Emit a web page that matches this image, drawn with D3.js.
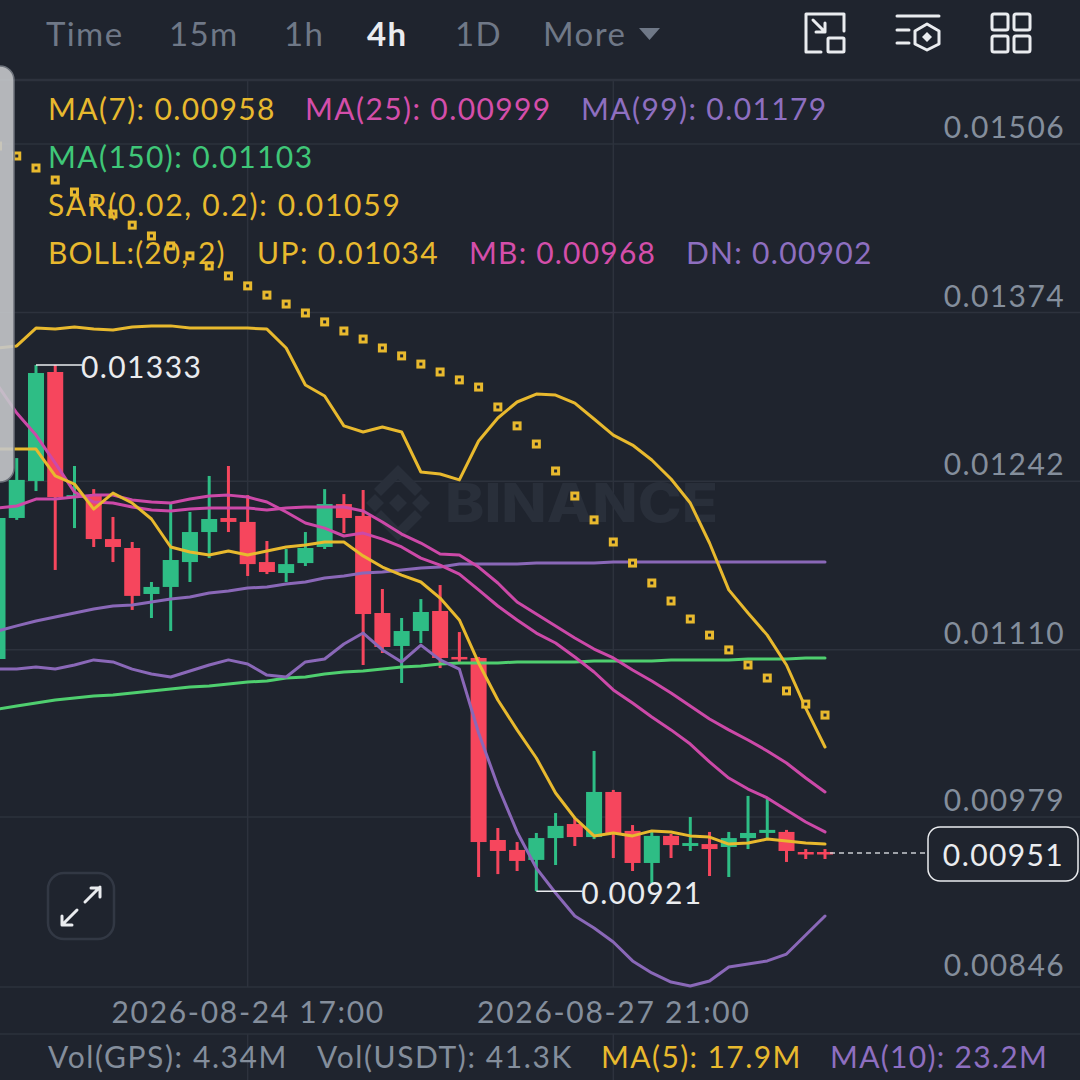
<!DOCTYPE html>
<html>
<head>
<meta charset="utf-8">
<script src="https://cdn.jsdelivr.net/npm/d3@7"></script>
<style>
  html, body { margin: 0; padding: 0; background: #1f242e; }
  svg { display: block; }
  text { font-family: Lato, "Open Sans", sans-serif; letter-spacing: 1.4px; }
</style>
</head>
<body>
<svg id="chart" width="1080" height="1080"></svg>
<script>
/* GPS/USDT 4h candles with MA, SAR and BOLL overlays */
var firstCandle = new Date(2026, 7, 22, 13, 0);
var dateTicks = [new Date(2026, 7, 24, 17, 0), new Date(2026, 7, 27, 21, 0)];
var priceTicks = [0.01506, 0.01374, 0.01242, 0.01110, 0.00979, 0.00846];
var lastPrice = 0.00951;

var opens = [0.011028,0.012132,0.012422,0.013275,0.012296,0.012304,0.011967,0.011897,0.011537,0.011592,0.011787,0.012022,0.012132,0.012101,0.011787,0.011701,0.011779,0.011905,0.012241,0.012148,0.011388,0.011130,0.011247,0.011404,0.011044,0.011036,0.009611,0.009533,0.009455,0.009626,0.009736,0.009634,0.009987,0.009682,0.009431,0.009643,0.009564,0.009579,0.009556,0.009626,0.009666,0.009674,0.009517,0.009517];
var highs = [0.012195,0.012601,0.013330,0.013330,0.012539,0.012358,0.012140,0.011944,0.011631,0.012249,0.012179,0.012461,0.012539,0.012311,0.011952,0.011889,0.012022,0.012358,0.012319,0.012351,0.011576,0.011349,0.011497,0.011607,0.011239,0.011044,0.009705,0.009595,0.009666,0.009822,0.009783,0.010308,0.010003,0.009728,0.009682,0.009658,0.009791,0.009674,0.009674,0.009956,0.009932,0.009690,0.009540,0.009540];
var lows = [0.010981,0.012117,0.012343,0.011725,0.012053,0.011905,0.011787,0.011412,0.011349,0.011247,0.011631,0.011818,0.012022,0.011678,0.011693,0.011631,0.011756,0.011889,0.012014,0.010981,0.011075,0.010840,0.011153,0.010957,0.011005,0.009321,0.009344,0.009368,0.009210,0.009415,0.009564,0.009618,0.009470,0.009368,0.009274,0.009470,0.009525,0.009329,0.009321,0.009540,0.009618,0.009439,0.009462,0.009462];
var closes = [0.012132,0.012430,0.013267,0.012296,0.012311,0.011967,0.011905,0.011522,0.011592,0.011803,0.012022,0.012124,0.012101,0.011771,0.011709,0.011771,0.011897,0.012241,0.012132,0.011380,0.011122,0.011247,0.011396,0.011036,0.011028,0.009595,0.009525,0.009447,0.009626,0.009721,0.009634,0.009987,0.009666,0.009431,0.009643,0.009571,0.009587,0.009540,0.009626,0.009666,0.009690,0.009525,0.009501,0.009500];

var ma7 = [0.012672,0.012672,0.012672,0.012461,0.012398,0.012202,0.012327,0.012249,0.012124,0.011905,0.011866,0.011842,0.011874,0.011842,0.011874,0.011905,0.011920,0.011944,0.011944,0.011835,0.011748,0.011685,0.011631,0.011505,0.011334,0.010997,0.010707,0.010473,0.010253,0.009979,0.009783,0.009643,0.009666,0.009643,0.009682,0.009674,0.009643,0.009634,0.009579,0.009587,0.009618,0.009603,0.009587,0.009579];
var ma25 = [0.013173,0.012954,0.012781,0.012562,0.012335,0.012257,0.012249,0.012218,0.012195,0.012187,0.012202,0.012210,0.012210,0.012210,0.012195,0.012210,0.012218,0.012218,0.012218,0.012187,0.012101,0.012006,0.011936,0.011850,0.011842,0.011748,0.011623,0.011474,0.011380,0.011287,0.011192,0.011106,0.011036,0.010942,0.010856,0.010762,0.010660,0.010558,0.010473,0.010394,0.010308,0.010214,0.010096,0.009987];
var ma99 = [0.011247,0.011287,0.011326,0.011357,0.011388,0.011419,0.011443,0.011450,0.011474,0.011497,0.011513,0.011545,0.011561,0.011584,0.011592,0.011615,0.011631,0.011662,0.011678,0.011701,0.011709,0.011725,0.011740,0.011748,0.011771,0.011771,0.011771,0.011771,0.011779,0.011779,0.011779,0.011779,0.011787,0.011787,0.011787,0.011787,0.011787,0.011787,0.011787,0.011787,0.011787,0.011787,0.011787,0.011787];
var ma150 = [0.010636,0.010660,0.010683,0.010707,0.010722,0.010739,0.010746,0.010762,0.010778,0.010793,0.010809,0.010817,0.010832,0.010848,0.010856,0.010879,0.010887,0.010910,0.010926,0.010934,0.010949,0.010965,0.010974,0.010989,0.010997,0.010997,0.010997,0.011005,0.011005,0.011005,0.011005,0.011013,0.011013,0.011013,0.011013,0.011021,0.011021,0.011021,0.011021,0.011028,0.011028,0.011028,0.011036,0.011036];
var bollUp = [0.013463,0.013479,0.013619,0.013611,0.013627,0.013611,0.013604,0.013627,0.013636,0.013636,0.013619,0.013619,0.013619,0.013619,0.013611,0.013463,0.013173,0.013087,0.012853,0.012805,0.012844,0.012805,0.012492,0.012476,0.012430,0.012735,0.012915,0.013040,0.013102,0.013094,0.013032,0.012907,0.012781,0.012703,0.012586,0.012437,0.012249,0.011936,0.011569,0.011388,0.011215,0.010981,0.010644,0.010339];
var bollMb = [0.012210,0.012226,0.012280,0.012280,0.012296,0.012311,0.012311,0.012273,0.012257,0.012249,0.012280,0.012304,0.012311,0.012296,0.012257,0.012179,0.012093,0.012053,0.011991,0.012014,0.011967,0.011905,0.011818,0.011763,0.011693,0.011569,0.011443,0.011334,0.011231,0.011153,0.011044,0.010926,0.010786,0.010683,0.010574,0.010473,0.010362,0.010222,0.010096,0.010010,0.009940,0.009846,0.009752,0.009674];
var bollDn = [0.010949,0.010949,0.010965,0.010949,0.010981,0.011021,0.011005,0.010949,0.010910,0.010887,0.010934,0.010981,0.011021,0.010989,0.010902,0.010887,0.011005,0.011028,0.011145,0.011231,0.011099,0.011005,0.011137,0.011021,0.010949,0.010449,0.010034,0.009674,0.009391,0.009196,0.009016,0.008922,0.008812,0.008664,0.008570,0.008499,0.008468,0.008507,0.008617,0.008640,0.008664,0.008718,0.008867,0.009016];
var sar = [0.015044,0.014966,0.014872,0.014778,0.014684,0.014606,0.014512,0.014425,0.014340,0.014262,0.014184,0.014105,0.014027,0.013949,0.013877,0.013807,0.013737,0.013667,0.013596,0.013533,0.013463,0.013401,0.013337,0.013275,0.013213,0.013157,0.013001,0.012853,0.012711,0.012500,0.012304,0.012117,0.011944,0.011779,0.011623,0.011482,0.011341,0.011215,0.011099,0.010981,0.010879,0.010778,0.010675,0.010589];

var tabLabels = ['Time', '15m', '1h', '4h', '1D', 'More'];
var legendRows = [
  [['MA(7): 0.00958', 48, '#e8b92e'], ['MA(25): 0.00999', 305, '#d44eaa'], ['MA(99): 0.01179', 581, '#8e6fc0']],
  [['MA(150): 0.01103', 48, '#3fc778']],
  [['SAR(0.02, 0.2): 0.01059', 48, '#e8b92e', '1.75px']],
  [['BOLL:(20, 2)', 48, '#e8b92e', '1.1px'], ['UP: 0.01034', 257, '#e8b92e'], ['MB: 0.00968', 469, '#d44eaa', '1.2px'], ['DN: 0.00902', 686, '#8e6fc0', '1.3px']]
];
var volLabels = [['Vol(GPS): 4.34M', 48, '#848e9c', '1.6px'], ['Vol(USDT): 41.3K', 317, '#848e9c', '1.6px'], ['MA(5): 17.9M', 601, '#e8b92e'], ['MA(10): 23.2M', 830, '#8e6fc0', '1.3px']];

(function () {
  'use strict';
  var colors = {
    bg: '#1f242e', grid: '#2d323d', up: '#2ebd85', down: '#f6465d', text: '#848e9c',
    yellow: '#e8b92e', pink: '#cc49a8', purple: '#8a68b8', green: '#4fcf6f', white: '#eaecef'
  };
  var svg = d3.select('#chart');
  var times = opens.map(function (d, i) { return d3.timeHour.offset(firstCandle, i * 4); });

  var x = d3.scaleTime().domain([times[0], times[times.length - 1]]).range([-2.5, 825]);
  var y = d3.scaleLinear().domain([0.00846, 0.01506]).range([987, 144]);

  /* ===== Grid ===== */
  var grid = svg.append('g').attr('stroke', colors.grid).attr('stroke-width', 1.5);
  grid.selectAll('.h').data(priceTicks).enter().append('line')
    .attr('x1', 0).attr('x2', 1080)
    .attr('y1', function (d) { return y(d); }).attr('y2', function (d) { return y(d); });
  grid.selectAll('.v').data(dateTicks).enter().append('line')
    .attr('x1', function (d) { return x(d); }).attr('x2', function (d) { return x(d); })
    .attr('y1', 80).attr('y2', 987);
  grid.selectAll('.v2').data(dateTicks).enter().append('line')
    .attr('x1', function (d) { return x(d); }).attr('x2', function (d) { return x(d); })
    .attr('y1', 1034).attr('y2', 1080);
  grid.append('line').attr('x1', 0).attr('x2', 1080).attr('y1', 80).attr('y2', 80).attr('stroke-width', 2.5);
  grid.append('line').attr('x1', 0).attr('x2', 1080).attr('y1', 1034).attr('y2', 1034);

  /* ===== Watermark ===== */
  var mark = svg.append('g').attr('fill', '#292f3a');
  mark.append('g').attr('transform', 'translate(398,503)').selectAll('path')
    .data([[0, -23, 11], [-23, 0, 7], [23, 0, 7], [0, 0, 7], [0, 23, 11]]).enter().append('path')
    .attr('d', function (d) {
      var cx = d[0], cy = d[1], r = d[2];
      if (r === 11) {
        /* chevrons above and below the centre */
        var s = cy < 0 ? -1 : 1;
        return 'M' + (-24) + ',' + (s * 14) + 'L0,' + (s * 38) + 'L24,' + (s * 14) +
          'L17,' + (s * 7) + 'L0,' + (s * 24) + 'L-17,' + (s * 7) + 'Z';
      }
      return 'M' + (cx - r - 2) + ',' + cy + 'L' + cx + ',' + (cy - r - 2) + 'L' + (cx + r + 2) + ',' + cy + 'L' + cx + ',' + (cy + r + 2) + 'Z';
    });
  mark.append('text').attr('x', 445).attr('y', 522)
    .attr('textLength', 273).attr('lengthAdjust', 'spacingAndGlyphs')
    .style('font-family', 'Inter, sans-serif').style('letter-spacing', '0')
    .style('font-size', '53px').style('font-weight', 800).text('BINANCE');

  /* ===== Candles ===== */
  var candles = svg.append('g');
  opens.forEach(function (o, i) {
    var c = closes[i];
    var col = c >= o ? colors.up : colors.down;
    var cx = x(times[i]);
    candles.append('line')
      .attr('x1', cx).attr('x2', cx).attr('y1', y(highs[i])).attr('y2', y(lows[i]))
      .attr('stroke', col).attr('stroke-width', 3);
    var top = y(Math.max(o, c)), bot = y(Math.min(o, c));
    candles.append('rect')
      .attr('x', cx - 8).attr('y', top)
      .attr('width', 16).attr('height', Math.max(bot - top, 2.5))
      .attr('fill', col);
  });

  /* ===== Overlay lines ===== */
  var line = d3.line().x(function (d, i) { return x(times[i]); }).y(function (d) { return y(d); });
  [[ma150, colors.green], [ma99, colors.purple], [bollDn, colors.purple], [ma25, colors.pink],
   [bollMb, colors.pink], [bollUp, colors.yellow], [ma7, colors.yellow]].forEach(function (s) {
    svg.append('path').attr('d', line(s[0])).attr('fill', 'none')
      .attr('stroke', s[1]).attr('stroke-width', 3)
      .attr('stroke-linejoin', 'round').attr('stroke-linecap', 'round');
  });

  /* SAR dots */
  svg.append('g').selectAll('rect').data(sar).enter().append('rect')
    .attr('x', function (d, i) { return x(times[i]) - 3; })
    .attr('y', function (d) { return y(d) - 3; })
    .attr('width', 6).attr('height', 6)
    .attr('fill', '#1f242e').attr('stroke', colors.yellow).attr('stroke-width', 3);

  /* ===== High / low markers ===== */
  function extremeLabel(idx, val, label) {
    var px = x(times[idx]), py = y(val);
    svg.append('line').attr('x1', px).attr('x2', px + 46).attr('y1', py).attr('y2', py)
      .attr('stroke', colors.white).attr('stroke-width', 1.5);
    svg.append('text').attr('x', px + 45).attr('y', py + 13)
      .style('fill', colors.white).style('font-size', '30px').text(label);
  }
  var hi = d3.greatestIndex(highs), lo = d3.leastIndex(lows);
  extremeLabel(hi, highs[hi], d3.format('.5f')(highs[hi]));
  extremeLabel(lo, lows[lo], d3.format('.5f')(lows[lo]));

  /* ===== Axes ===== */
  var yAxis = d3.axisLeft(y).tickValues(priceTicks).tickSize(0).tickPadding(0).tickFormat(d3.format('.5f'));
  var gy = svg.append('g').attr('transform', 'translate(1065,-16)').call(yAxis);
  gy.select('.domain').remove();
  gy.selectAll('text').style('fill', colors.text).style('font-size', '30px');
  /* bottom label sits a little higher than its line */
  gy.selectAll('.tick').filter(function (d) { return d === 0.00846; }).select('text').attr('y', -5);

  var xAxis = d3.axisBottom(x).tickValues(dateTicks).tickSize(0).tickPadding(0).tickFormat(d3.timeFormat('%Y-%m-%d %H:%M'));
  var gx = svg.append('g').attr('transform', 'translate(0,1002)').call(xAxis);
  gx.select('.domain').remove();
  gx.selectAll('text').style('fill', colors.text).style('font-size', '30px').style('letter-spacing', '1.7px');

  /* last price tag */
  var lastY = y(lastPrice);
  svg.append('line').attr('x1', 830).attr('x2', 928).attr('y1', lastY).attr('y2', lastY)
    .attr('stroke', '#c9ccd1').attr('stroke-width', 1.5).attr('stroke-dasharray', '5,4');
  svg.append('rect').attr('x', 928).attr('y', 827).attr('width', 150).attr('height', 54).attr('rx', 12)
    .attr('fill', colors.bg).attr('stroke', colors.white).attr('stroke-width', 1.5);
  svg.append('text').attr('x', 1003.5).attr('y', lastY + 13.5).attr('text-anchor', 'middle')
    .style('fill', colors.white).style('font-size', '30px').text(d3.format('.5f')(lastPrice));

  /* ===== Legend ===== */
  function labels(row, py, size) {
    row.forEach(function (l) {
      svg.append('text').attr('x', l[1]).attr('y', py)
        .style('fill', l[2]).style('font-size', size)
        .style('letter-spacing', l[3] || null).text(l[0]);
    });
  }
  legendRows.forEach(function (row, i) { labels(row, 120 + i * 48, '30px'); });
  labels(volLabels, 1068, '30px');

  /* ===== Side panel ===== */
  svg.append('rect').attr('x', -20).attr('y', 66).attr('width', 34).attr('height', 416).attr('rx', 14)
    .attr('fill', '#c4c6ca').attr('fill-opacity', 0.9).attr('stroke', '#6d727b').attr('stroke-width', 1.5);

  /* ===== Top bar ===== */
  var tabX = [46, 169, 284, 367, 455, 543];
  tabLabels.forEach(function (t, i) {
    svg.append('text').attr('x', tabX[i]).attr('y', 46)
      .style('fill', t === '4h' ? colors.white : '#6f7887')
      .style('font-weight', t === '4h' ? 700 : 400)
      .style('font-size', '33px').text(t);
  });
  svg.append('path').attr('d', 'M639,28L660,28L649.5,40Z').attr('fill', '#6f7887');

  var icons = svg.append('g').attr('fill', 'none').attr('stroke', colors.white).attr('stroke-width', 3)
    .attr('stroke-linejoin', 'round').attr('stroke-linecap', 'round');
  icons.append('path').attr('d', 'M821,52H806V14H844V31M813,20L825,32M825,23V32H816');
  icons.append('rect').attr('x', 828).attr('y', 38).attr('width', 16).attr('height', 14).attr('rx', 1);
  icons.append('path').attr('d', 'M897,16H939M897,30H909M897,43H909M927,24L939,31V44L927,50L915,44V31Z');
  icons.append('path').attr('d', 'M927,32L932,37L927,42L922,37Z').attr('fill', colors.white).attr('stroke', 'none');
  [[992, 14], [1014, 14], [992, 36], [1014, 36]].forEach(function (p) {
    icons.append('rect').attr('x', p[0]).attr('y', p[1]).attr('width', 16).attr('height', 16).attr('rx', 2);
  });

  /* expand button */
  svg.append('rect').attr('x', 48).attr('y', 873).attr('width', 66).attr('height', 66).attr('rx', 16)
    .attr('fill', 'none').attr('stroke', '#323844').attr('stroke-width', 2.5);
  svg.append('path').attr('d', 'M85,902L100,887M91,888H100V897M77,910L62,925M62,916V925H72')
    .attr('fill', 'none').attr('stroke', colors.white).attr('stroke-width', 3)
    .attr('stroke-linecap', 'round').attr('stroke-linejoin', 'round');
})();
</script>
</body>
</html>
